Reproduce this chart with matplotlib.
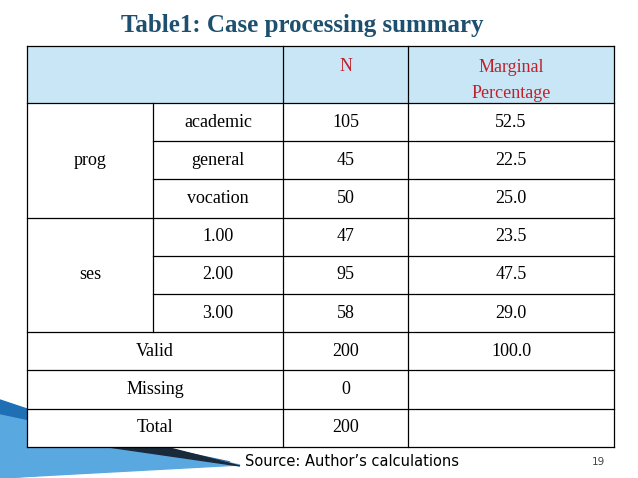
import matplotlib
matplotlib.use("Agg")
import matplotlib.pyplot as plt
from matplotlib.patches import Rectangle, Polygon

title = "Table1: Case processing summary"
groups = ["prog", "ses"]
categories = [["academic", "general", "vocation"], ["1.00", "2.00", "3.00"]]
n_values = [[105, 45, 50], [47, 95, 58]]
pct_values = [["52.5", "22.5", "25.0"], ["23.5", "47.5", "29.0"]]
summary_labels = ["Valid", "Missing", "Total"]
summary_n = [200, 0, 200]
summary_pct = ["100.0", "", ""]
source = "Source: Author\u2019s calculations"
page = "19"

fig = plt.figure(figsize=(6.38, 4.78), dpi=100)
ax = fig.add_axes([0, 0, 1, 1])
ax.set_xlim(0, 638); ax.set_ylim(478, 0); ax.axis("off")

serif = "Liberation Serif"
cols = [27, 153, 283, 408, 614]
top, hb = 46, 103
rh = 38.2
lw = 0.9
ax.add_patch(Polygon([[0, 400], [60, 420], [150, 445], [230, 462], [0, 478]], color="#1f6fb5", zorder=0))
ax.add_patch(Polygon([[0, 415], [80, 432], [190, 455], [240, 465], [0, 478]], color="#5aa8e0", zorder=0))
ax.add_patch(Polygon([[60, 420], [240, 466], [60, 440]], color="#1a2a3a", zorder=0))

fs = 13
ax.add_patch(Rectangle((cols[0], top), cols[-1]-cols[0], hb-top, fc="#c9e6f6", ec="none", zorder=1))
ax.text((cols[2]+cols[3])/2, 66, "N", ha="center", va="center", fontsize=fs, family=serif, color="#c0202a", zorder=3)
ax.text((cols[3]+cols[4])/2, 67, "Marginal", ha="center", va="center", fontsize=fs, family=serif, color="#c0202a", zorder=3)
ax.text((cols[3]+cols[4])/2, 93, "Percentage", ha="center", va="center", fontsize=fs, family=serif, color="#c0202a", zorder=3)

ax.add_patch(Rectangle((cols[0], hb), cols[-1]-cols[0], 9*rh, fc="white", ec="none", zorder=1))
nrows = 9
bottom = hb + nrows*rh
L = dict(color="black", lw=lw, zorder=2)
ax.plot([cols[0], cols[-1]], [top, top], **L)
ax.plot([cols[0], cols[-1]], [hb, hb], **L)
for c in [cols[0], cols[-1]]:
    ax.plot([c, c], [top, bottom], **L)
for c in cols[2:4]:
    ax.plot([c, c], [top, bottom], **L)
ax.plot([cols[1], cols[1]], [hb, hb+6*rh], **L)
for i in range(1, nrows+1):
    y = hb + i*rh
    if i in (3, 6) or i >= 6:
        ax.plot([cols[0], cols[-1]], [y, y], **L)
    else:
        ax.plot([cols[1], cols[-1]], [y, y], **L)

r = 0
for g, cats, ns, ps in zip(groups, categories, n_values, pct_values):
    ax.text((cols[0]+cols[1])/2, hb + (r+1.5)*rh, g, ha="center", va="center", fontsize=fs, family=serif, zorder=3)
    for c, n, p in zip(cats, ns, ps):
        yc = hb + (r+0.5)*rh
        ax.text((cols[1]+cols[2])/2, yc, c, ha="center", va="center", fontsize=fs, family=serif, zorder=3)
        ax.text((cols[2]+cols[3])/2, yc, str(n), ha="center", va="center", fontsize=fs, family=serif, zorder=3)
        ax.text((cols[3]+cols[4])/2, yc, p, ha="center", va="center", fontsize=fs, family=serif, zorder=3)
        r += 1
for lab, n, p in zip(summary_labels, summary_n, summary_pct):
    yc = hb + (r+0.5)*rh
    ax.text((cols[0]+cols[2])/2, yc, lab, ha="center", va="center", fontsize=fs, family=serif, zorder=3)
    ax.text((cols[2]+cols[3])/2, yc, str(n), ha="center", va="center", fontsize=fs, family=serif, zorder=3)
    ax.text((cols[3]+cols[4])/2, yc, p, ha="center", va="center", fontsize=fs, family=serif, zorder=3)
    r += 1

ax.text(302, 25, title, ha="center", va="center", fontsize=18, fontweight="bold", family=serif, color="#1d4f6e", zorder=3)
ax.text(245, 462, source, ha="left", va="center", fontsize=10.5, family="DejaVu Sans", zorder=3)
ax.text(598, 462, page, ha="center", va="center", fontsize=7.5, family="DejaVu Sans", color="#444444", zorder=3)

fig.savefig("out.png", dpi=100)
